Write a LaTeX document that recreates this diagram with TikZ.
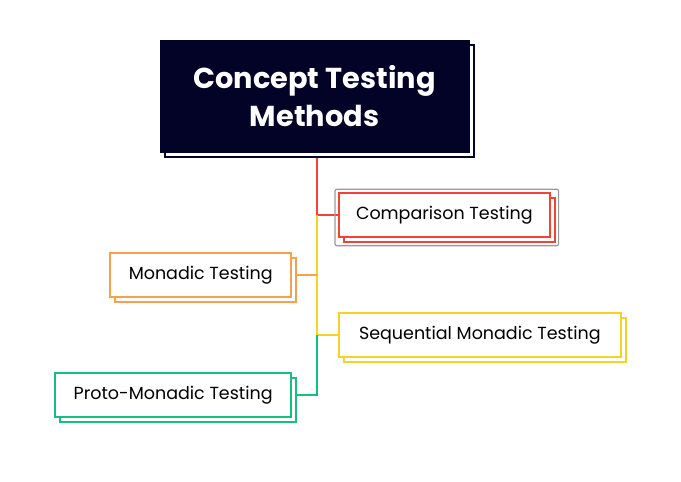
\documentclass[tikz,border=0pt]{standalone}
\usepackage{fontspec}
\setmainfont{Poppins}
\usetikzlibrary{shadows}
\definecolor{navy}{RGB}{2,3,38}
\definecolor{cred}{RGB}{244,67,54}
\definecolor{corange}{RGB}{248,160,76}
\definecolor{cyellow}{RGB}{244,210,40}
\definecolor{cgreen}{RGB}{22,190,128}
\begin{document}
\begin{tikzpicture}[x=1pt, y=-1pt,
    topic/.style={draw=navy, fill=navy, text=white, line width=1pt, align=center,
        font=\fontsize{28.8}{38}\selectfont\bfseries, minimum width=309pt, minimum height=112pt,
        copy shadow={shadow xshift=5pt, shadow yshift=-5pt, fill=white, draw=navy, line width=1.5pt}},
    sub/.style={draw=#1, fill=white, line width=1.6pt, minimum height=44pt,
        font=\fontsize{17.5}{20}\selectfont,
        copy shadow={shadow xshift=5pt, shadow yshift=-5pt, fill=white, draw=#1, line width=1.6pt}},
    link/.style={draw=#1, line width=1.6pt}]
    \useasboundingbox (0,0) rectangle (681,482);

    \node[topic] (title) at (314.5,96) {Concept Testing\\Methods};

    \node[sub=cred, minimum width=211pt, anchor=west] (cmp) at (338,215) {Comparison Testing};
    \node[sub=corange, minimum width=181pt, anchor=east] (mon) at (292,275) {Monadic Testing};
    \node[sub=cyellow, minimum width=282pt, anchor=west] (seq) at (338,335) {Sequential Monadic Testing};
    \node[sub=cgreen, minimum width=236pt, anchor=east] (proto) at (292,395) {Proto-Monadic Testing};

    \coordinate (trunk) at (317,0);
    \coordinate (fork) at (cmp.west -| trunk);
    \coordinate (fork2) at (seq.west -| trunk);

    \draw[link=cred] ([yshift=-5pt]title.south -| trunk) |- (cmp.west);
    \draw[link=cyellow] (fork) |- (seq.west);
    \draw[link=corange] ([xshift=5pt]mon.east) -- (mon.east -| trunk);
    \draw[link=cgreen] (fork2) |- ([xshift=5pt]proto.east);

    % selection frame
    \draw[gray!80, line width=1.2pt, rounded corners=2pt]
        ([shift={(-3,-3)}]cmp.north west) rectangle ([shift={(8,8)}]cmp.south east);
\end{tikzpicture}
\end{document}
